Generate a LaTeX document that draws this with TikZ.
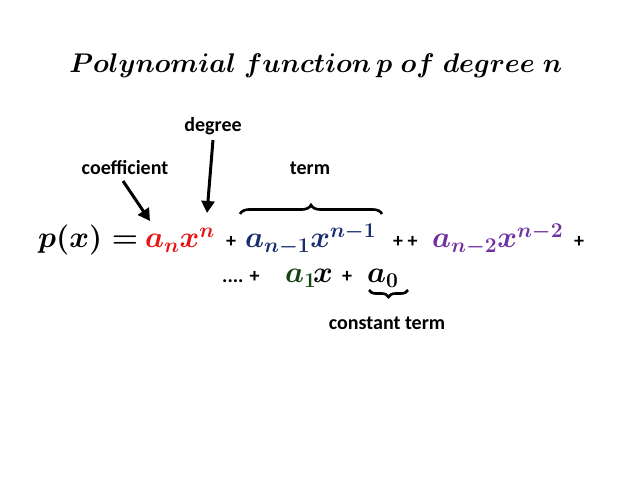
\RequirePackage{fix-cm}
\documentclass[tikz,border=0pt]{standalone}
\usepackage{fontspec}
\usepackage{amsmath}
\setsansfont{Carlito}
\usetikzlibrary{decorations.pathreplacing,arrows.meta}
\definecolor{cred}{RGB}{230,20,20}
\definecolor{cnavy}{RGB}{25,45,110}
\definecolor{cpurple}{RGB}{112,48,160}
\definecolor{cgreen}{RGB}{20,70,20}
\tikzset{lab/.style={font=\sffamily\bfseries\fontsize{20}{24}\selectfont,inner sep=0pt},
 eq/.style={font=\fontsize{30}{36}\selectfont\boldmath,inner sep=0pt},
 arr/.style={line width=3pt,-{Triangle[length=12pt,width=13pt]}},
 br/.style={decorate,decoration={brace,amplitude=9pt},line width=2.6pt}}
\begin{document}
\begin{tikzpicture}[x=1pt,y=-1pt]
\useasboundingbox (0,0) rectangle (638,478);
\node[eq,font=\fontsize{27}{32}\selectfont\boldmath] (title) at (316,66) {$Polynomial\ function\, p\ of\ degree\ n$};
\node[eq,anchor=base west] (p) at (38,248) {$p(x)=$};
\node[eq,anchor=base west,text=cred] (an) at (145,248) {$a_n x^n$};
\node[lab,anchor=base west] (pl1) at (226,248) {+};
\node[eq,anchor=base west,text=cnavy] (an1) at (245,248) {$a_{n-1}x^{n-1}$};
\node[lab,anchor=base west] (pl2) at (393,248) {+ +};
\node[eq,anchor=base west,text=cpurple] (an2) at (432,248) {$a_{n-2}x^{n-2}$};
\node[lab,anchor=base west] (pl3) at (574,248) {+};
\node[lab,anchor=base west] (dots) at (222,283) {.... +};
\node[eq,anchor=base west,text=cgreen] (a1) at (285,283) {$a_1$};
\node[eq,anchor=base west] (x1) at (313,283) {$x$};
\node[lab,anchor=base west] (pl4) at (342,283) {+};
\node[eq,anchor=base west] (a0) at (367,283) {$a_0$};
\node[lab] (deg) at (213,126) {degree};
\node[lab] (coef) at (125,168) {coefficient};
\node[lab] (term) at (310,168) {term};
\node[lab] (const) at (387,323) {constant term};
\coordinate (c1) at (123,181);
\coordinate (c2) at (150,221);
\coordinate (d1) at (213,140);
\coordinate (d2) at (207,213);
\draw[arr] (c1) -- (c2);
\draw[arr] (d1) -- (d2);
\coordinate (b1) at (240,214);
\coordinate (b2) at (382,214);
\draw[br] (b1) -- (b2);
\coordinate (e1) at (408,290);
\coordinate (e2) at (369,290);
\draw[br,decoration={amplitude=7pt}] (e1) -- (e2);
\end{tikzpicture}
\end{document}
